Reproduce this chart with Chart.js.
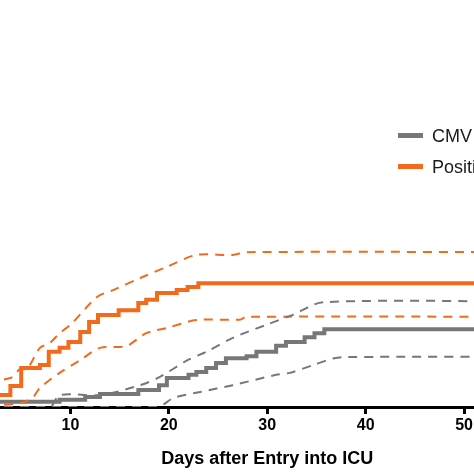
<!DOCTYPE html>
<html><head><meta charset="utf-8">
<script src="https://cdn.jsdelivr.net/npm/chart.js@4"></script>
<style>
html,body{margin:0;padding:0;width:474px;height:474px;overflow:hidden;background:#fff;font-family:"Liberation Sans",Arial,sans-serif}
#wrap{position:absolute;left:-128px;top:0;width:720px;height:474px}
.lg{position:absolute;left:398px;font-size:18px;color:#1a1a1a;white-space:nowrap}
.lg span{display:inline-block;width:25px;height:5px;vertical-align:middle;margin-right:9px;position:relative;top:-2px}
</style></head><body>
<div id="wrap"><canvas id="c" width="720" height="474"></canvas></div>
<div class="lg" style="top:126px"><span style="background:#777"></span>CMV Negative</div>
<div class="lg" style="top:157px"><span style="background:#f26a1b"></span>Positive</div>
<script>
const xTicks=[0,10,20,30,40,50,60];
const posDays=[0,3.9,5,6.9,7.8,8.9,9.8,11,11.9,12.8,14.9,16.9,17.7,18.8,20.8,21.9,23,27.9,60];
const posVals=[0.013,0.03,0.053,0.098,0.106,0.139,0.149,0.164,0.189,0.214,0.232,0.244,0.262,0.27,0.287,0.295,0.302,0.312,0.312];
const posUpDays=[0,3.9,4.9,5.6,6.9,7.9,8.9,10,12.7,14.4,17.1,19.8,22.8,26.5,27.9,60];
const posUpVals=[0.06,0.073,0.096,0.096,0.149,0.161,0.186,0.207,0.277,0.295,0.325,0.353,0.383,0.383,0.39,0.39];
const posLoDays=[0,4.9,6.2,6.9,8.9,11,13,15.7,17.7,19.8,22.8,27.2,27.9,60];
const posLoVals=[0,0.01,0.025,0.048,0.086,0.118,0.149,0.154,0.186,0.199,0.219,0.22,0.227,0.227];
const negDays=[0,8.9,11.5,13,16.9,19,19.8,22,22.8,23.8,24.8,25.8,27.9,28.9,30.9,31.9,33.8,34.8,35.8,38,60];
const negVals=[0.005,0.013,0.018,0.025,0.033,0.043,0.055,0.073,0.081,0.088,0.098,0.111,0.123,0.128,0.139,0.154,0.164,0.176,0.186,0.196,0.196];
const negUpDays=[0,7.9,8.9,13,17.1,19.1,21.9,23.8,26.5,29.9,32.6,35.7,60];
const negUpVals=[0,0,0.03,0.03,0.055,0.076,0.118,0.139,0.174,0.207,0.232,0.264,0.264];
const negLoDays=[0,18.8,20.5,23.2,26.5,30.9,32.3,34.7,36.8,38,60];
const negLoVals=[0,0,0.023,0.038,0.055,0.081,0.086,0.106,0.123,0.126,0.126];
const pts=(d,v)=>d.map((x,i)=>({x:x,y:v[i]}));
const OR='#f26a1b',GR='#777777';
const ds=(d,v,c,main)=>({data:pts(d,v),borderColor:c,borderWidth:main?4:2,borderDash:main?[]:[9,7],stepped:main?'after':false,tension:main?0:0.3,pointRadius:0,fill:false});
new Chart(document.getElementById('c'),{type:'line',
data:{datasets:[ds(negLoDays,negLoVals,GR,false),ds(negUpDays,negUpVals,GR,false),ds(posLoDays,posLoVals,OR,false),ds(posUpDays,posUpVals,OR,false),ds(negDays,negVals,GR,true),ds(posDays,posVals,OR,true)]},
options:{responsive:false,animation:false,layout:{padding:{left:100,right:29.5,top:10,bottom:0}},
plugins:{legend:{display:false},tooltip:{enabled:false}},
scales:{
x:{type:'linear',min:0,max:60,afterFit:s=>{s.height=67;},afterBuildTicks:s=>{s.ticks=xTicks.map(v=>({value:v}));},
grid:{drawOnChartArea:false,drawTicks:true,tickLength:7,color:'#000',lineWidth:3},border:{color:'#000',width:3},
ticks:{color:'#000',font:{size:16,weight:'bold',family:'"Liberation Sans",Arial'},padding:2},
title:{display:true,text:'Days after Entry into ICU',color:'#000',font:{size:18,weight:'bold',family:'"Liberation Sans",Arial'},padding:{top:6}}},
y:{display:false,min:0,max:1}}}});
</script></body></html>
